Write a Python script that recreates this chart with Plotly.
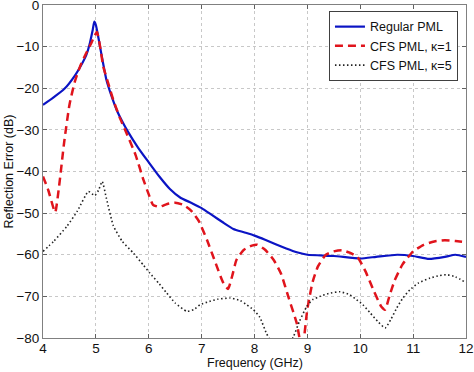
import plotly.graph_objects as go

freq_regular = [4.0, 4.2, 4.4, 4.6, 4.75, 4.82, 4.88, 4.94, 4.97, 5.0, 5.05, 5.1, 5.2, 5.3, 5.4, 5.5, 5.6,
                5.8, 6.0, 6.2, 6.4, 6.6, 6.8, 7.0, 7.2, 7.4, 7.6, 7.8, 8.0, 8.2, 8.4, 8.6, 8.8, 9.0,
                9.5, 10.0, 10.3, 10.7, 11.0, 11.3, 11.6, 11.8, 12.0]
err_regular = [-24.0, -22.2, -20.2, -17.0, -13.8, -12.0, -9.5, -6.0, -4.0, -4.8, -8.0, -11.5, -18.0, -22.0,
               -25.4, -28.0, -30.3, -34.3, -37.8, -41.2, -44.2, -46.3, -47.5, -48.8, -50.5, -52.2, -53.8,
               -54.6, -55.4, -56.4, -57.5, -58.5, -59.4, -60.0, -60.3, -60.9, -60.5, -60.0, -60.3, -61.0,
               -60.5, -60.0, -60.5]

freq_k1 = [4.0, 4.1, 4.23, 4.3, 4.4, 4.5, 4.6, 4.7, 4.8, 4.9, 4.97, 5.02, 5.08, 5.14, 5.25, 5.33, 5.45,
           5.58, 5.75, 5.9, 6.0, 6.08, 6.2, 6.35, 6.5, 6.65, 6.8, 6.95, 7.1, 7.25, 7.4, 7.5, 7.58, 7.66,
           7.8, 7.95, 8.05, 8.2, 8.36, 8.5, 8.65, 8.8, 8.9, 9.0, 9.1, 9.2, 9.35, 9.5, 9.65, 9.8, 9.95,
           10.1, 10.25, 10.4, 10.47, 10.55, 10.65, 10.8, 11.0, 11.2, 11.4, 11.6, 11.8, 12.0]
err_k1 = [-41.2, -44.5, -49.8, -44.0, -33.0, -24.0, -18.5, -14.8, -12.0, -9.5, -7.5, -6.5, -10.0, -14.8,
          -19.5, -22.8, -27.0, -30.8, -36.0, -42.0, -45.5, -48.0, -48.5, -47.8, -47.5, -48.0, -49.4, -52.0,
          -56.4, -61.5, -66.5, -68.2, -65.0, -61.2, -58.8, -57.8, -57.6, -58.8, -61.2, -64.5, -70.5, -76.5,
          -83.0, -73.0, -66.5, -62.8, -60.0, -59.2, -58.9, -59.5, -60.6, -64.0, -68.5, -72.5, -73.2, -70.0,
          -66.2, -62.3, -59.2, -57.6, -56.8, -56.5, -56.7, -57.0]

freq_k5 = [4.0, 4.2, 4.45, 4.65, 4.86, 4.98, 5.05, 5.12, 5.2, 5.33, 5.5, 5.71, 5.9, 6.02, 6.2, 6.34, 6.5,
           6.72, 6.85, 6.97, 7.15, 7.3, 7.54, 7.73, 7.85, 7.98, 8.1, 8.23, 8.35, 8.5, 8.65, 8.74, 8.85,
           8.99, 9.1, 9.24, 9.4, 9.62, 9.8, 9.93, 10.05, 10.19, 10.33, 10.47, 10.58, 10.69, 10.8, 10.94,
           11.1, 11.32, 11.5, 11.64, 11.8, 12.0]
err_k5 = [-59.2, -56.8, -53.2, -49.5, -44.8, -45.8, -44.5, -42.4, -46.5, -53.0, -56.8, -59.6, -62.5, -64.4,
          -67.0, -69.2, -71.6, -73.6, -73.2, -72.0, -71.2, -70.7, -70.4, -71.0, -72.0, -73.2, -75.0, -79.0,
          -81.5, -82.5, -81.5, -79.6, -76.0, -72.4, -70.8, -70.0, -69.3, -68.9, -69.6, -70.8, -72.0, -74.0,
          -76.0, -77.6, -75.5, -72.8, -70.5, -68.4, -66.8, -65.6, -65.0, -64.8, -65.3, -66.7]

series_names = ["Regular PML", "CFS PML, \u03ba=1", "CFS PML, \u03ba=5"]
x_ticks = [4, 5, 6, 7, 8, 9, 10, 11, 12]
y_ticks = [0, -10, -20, -30, -40, -50, -60, -70, -80]
x_title = "Frequency (GHz)"
y_title = "Reflection Error (dB)"

font = "Liberation Sans, Arial, Helvetica, sans-serif"

fig = go.Figure()
fig.add_trace(go.Scatter(x=freq_regular, y=err_regular, mode="lines", name=series_names[0],
                         line=dict(color="#0b14c4", width=2.2, shape="spline", smoothing=0.5)))
fig.add_trace(go.Scatter(x=freq_k1, y=err_k1, mode="lines", name=series_names[1],
                         line=dict(color="#e0141c", width=2.5, dash="8px,5px", shape="spline", smoothing=0.5)))
fig.add_trace(go.Scatter(x=freq_k5, y=err_k5, mode="lines", name=series_names[2],
                         line=dict(color="#222222", width=1.6, dash="1.5px,2.5px", shape="spline", smoothing=0.5)))

axis_common = dict(showline=True, linecolor="#808080", linewidth=1, mirror="ticks",
                   ticks="inside", ticklen=4, tickcolor="#606060",
                   showgrid=True, gridcolor="#c8c8c8", griddash="dot", gridwidth=1,
                   zeroline=False, ticklabeloverflow="allow",
                   tickfont=dict(family=font, size=13.5, color="#111"))

fig.update_xaxes(range=[4, 12], tickvals=x_ticks, ticktext=[str(v) for v in x_ticks],
                 automargin=False, ticklabelstandoff=-2, **axis_common)
fig.update_yaxes(range=[-80, 0], tickvals=y_ticks,
                 ticktext=[("\u2212" + str(-v)) if v < 0 else str(v) for v in y_ticks],
                 automargin=False, **axis_common)

fig.update_layout(
    width=474, height=372,
    margin=dict(l=43, r=8, t=5, b=34),
    plot_bgcolor="white", paper_bgcolor="white",
    showlegend=True,
    legend=dict(x=0.981, y=0.982, xanchor="right", yanchor="top",
                bgcolor="white", bordercolor="#404040", borderwidth=1,
                font=dict(family=font, size=12.5, color="#111"),
                tracegroupgap=0, itemwidth=30),
    annotations=[
        dict(text=x_title, xref="paper", yref="paper", x=0.5, y=-0.103, xanchor="center", yanchor="bottom",
             showarrow=False, font=dict(family=font, size=12.5, color="#111")),
        dict(text=y_title, xref="paper", yref="paper", x=-0.0827, y=0.5, xanchor="center", yanchor="middle",
             textangle=-90, showarrow=False, font=dict(family=font, size=12.5, color="#111")),
    ],
)

fig.write_html("out.html", config={"displayModeBar": False},
               post_script="document.body.style.margin='0';document.body.style.overflow='hidden';")
